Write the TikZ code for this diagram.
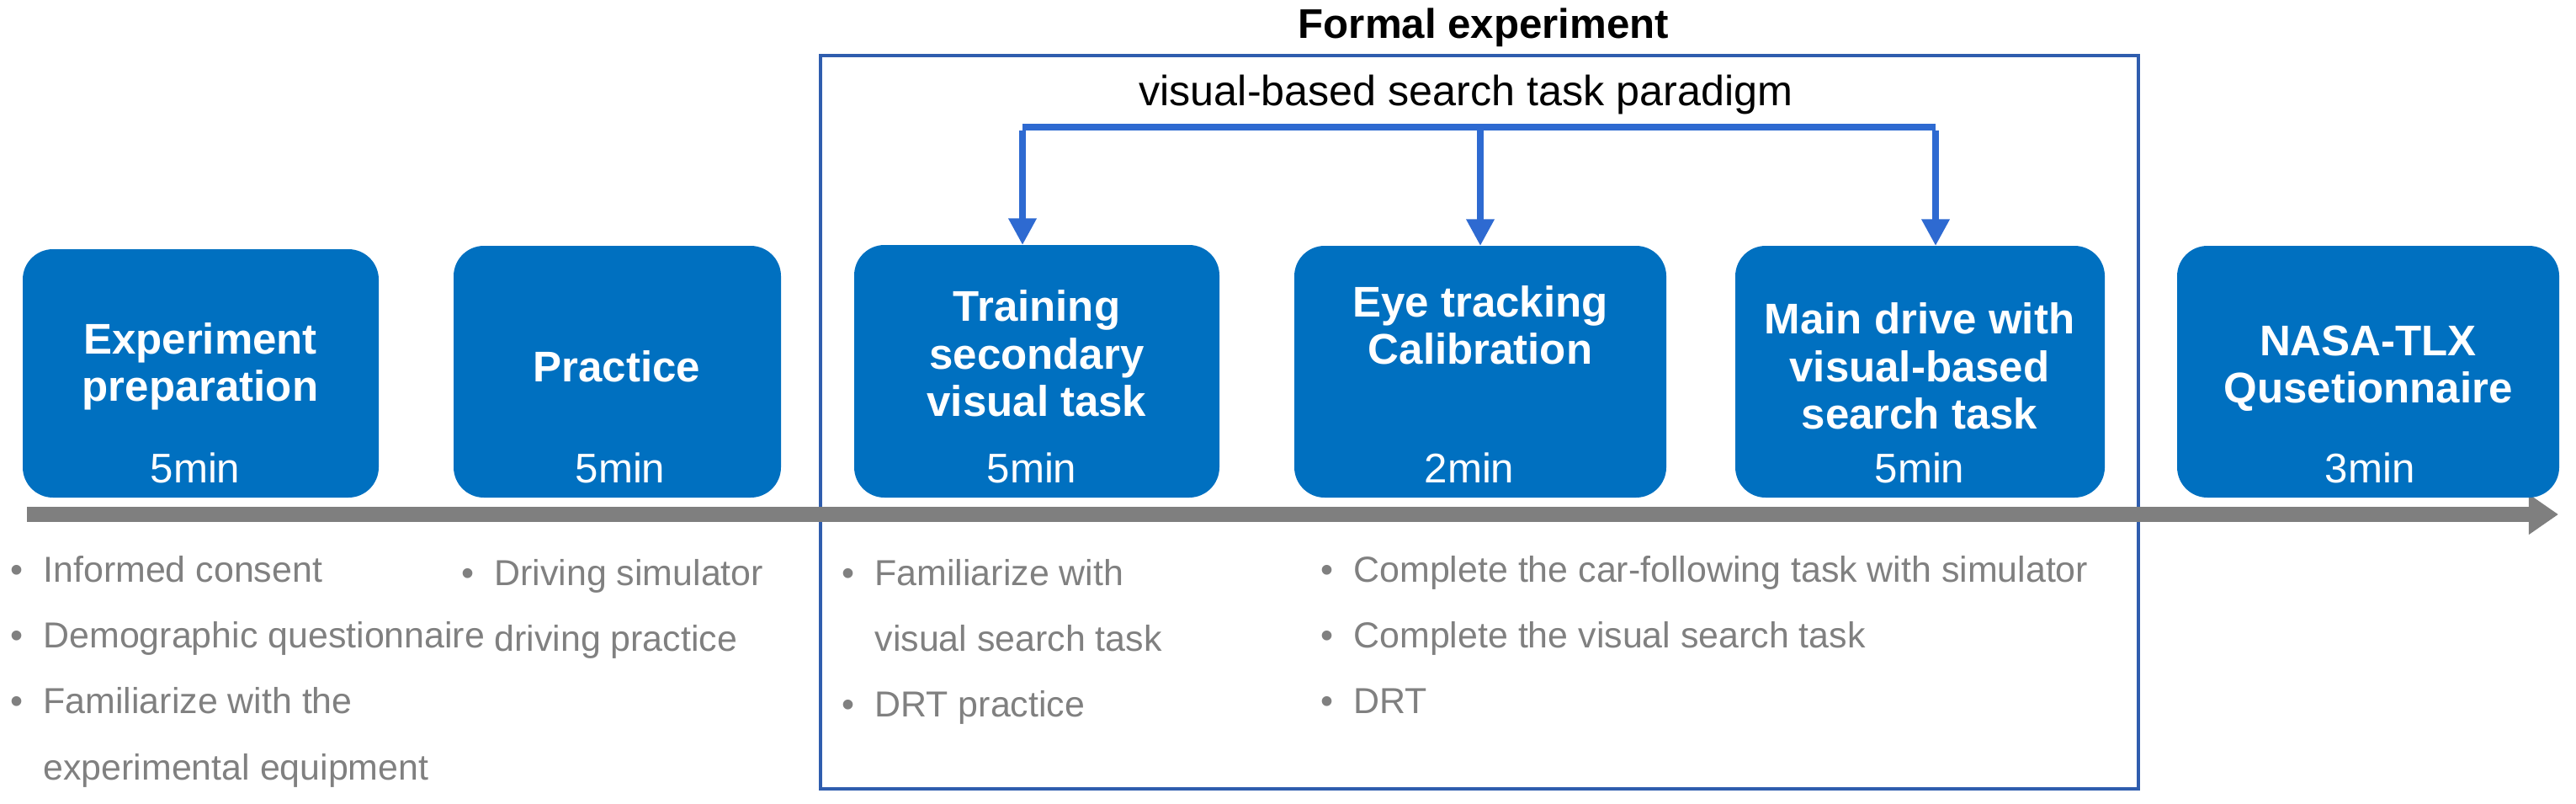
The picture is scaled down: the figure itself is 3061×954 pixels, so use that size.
\documentclass[tikz,border=0pt]{standalone}
\usepackage{fontspec}
\setmainfont{Liberation Sans}
\usetikzlibrary{arrows.meta}
\definecolor{boxblue}{HTML}{0070C0}
\definecolor{frameblue}{HTML}{2F5DAE}
\definecolor{arrblue}{HTML}{2E6AD1}
\definecolor{axisgray}{HTML}{7F7F7F}
\definecolor{txtgray}{HTML}{808080}
\begin{document}
\begin{tikzpicture}[x=0.01cm,y=-0.01cm,
  stage/.style={fill=boxblue,rounded corners=0.36cm,draw=none},
  ttl/.style={text=white,font=\fontsize{14.5}{16}\selectfont\bfseries,align=center,inner sep=0},
  dur/.style={text=white,font=\fontsize{14}{16}\selectfont,inner sep=0},
  items/.style={text=txtgray,font=\fontsize{12.2}{22.2}\selectfont,align=left,anchor=north west,inner sep=0},
  conn/.style={draw=arrblue,line width=2.2pt,-{Triangle[length=9pt,width=9pt]}}]
\useasboundingbox (0,0) rectangle (3061,954);
% frame
\draw[frameblue,line width=1.3pt] (975,66) rectangle (2541,937);
\node[font=\fontsize{14}{16}\selectfont\bfseries] (fe) at (1763,33) {Formal experiment};
\node[font=\fontsize{14.3}{16}\selectfont] (par) at (1742,112) {visual-based search task paradigm};
% axis
\coordinate (a0) at (32,611);
\coordinate (a1) at (3040,611);
\draw[axisgray,line width=5pt,-{Triangle[length=10pt,width=13pt]}] (a0) -- (a1);
% boxes
\fill[stage] (27,296) rectangle (450,591);
\fill[stage] (539,292) rectangle (928,591);
\fill[stage] (1015,291) rectangle (1449,591);
\fill[stage] (1538,292) rectangle (1980,591);
\fill[stage] (2062,292) rectangle (2501,591);
\fill[stage] (2587,292) rectangle (3041,591);
\node[ttl] (t1) at (238,435) {Experiment\\preparation};
\node[ttl] (t2) at (733,435) {Practice};
\node[ttl] (t3) at (1232,420) {Training\\secondary\\visual task};
\node[ttl] (t4) at (1759,386) {Eye tracking\\Calibration};
\node[ttl] (t5) at (2281,435) {Main drive with\\visual-based\\search task};
\node[ttl] (t6) at (2814,438) {NASA-TLX\\Qusetionnaire};
\node[dur] (d1) at (232,556) {5min};
\node[dur] (d2) at (737,556) {5min};
\node[dur] (d3) at (1226,556) {5min};
\node[dur] (d4) at (1746,556) {2min};
\node[dur] (d5) at (2281,556) {5min};
\node[dur] (d6) at (2816,556) {3min};
% connectors
\coordinate (pl) at (1215,151);
\coordinate (pm) at (1759,151);
\coordinate (pr) at (2300,151);
\draw[arrblue,line width=2.2pt] (pl) -- (pr);
\coordinate (b3) at (1215,291);
\coordinate (b4) at (1759,292);
\coordinate (b5) at (2300,292);
\draw[conn] ([yshift=-1pt]pl) -- (b3);
\draw[conn] (pm) -- (b4);
\draw[conn] ([yshift=-1pt]pr) -- (b5);
% items
\node[items] (i1) at (12,660) {\textbullet\ \ Informed consent\\\textbullet\ \ Demographic questionnaire\\\textbullet\ \ Familiarize with the\\\phantom{\textbullet\ \ }experimental equipment};
\node[items] (i2) at (548,664) {\textbullet\ \ Driving simulator\\\phantom{\textbullet\ \ }driving practice};
\node[items] (i3) at (1000,664) {\textbullet\ \ Familiarize with\\\phantom{\textbullet\ \ }visual search task\\\textbullet\ \ DRT practice};
\node[items] (i4) at (1569,660) {\textbullet\ \ Complete the car-following task with simulator\\\textbullet\ \ Complete the visual search task\\\textbullet\ \ DRT};
\end{tikzpicture}
\end{document}
